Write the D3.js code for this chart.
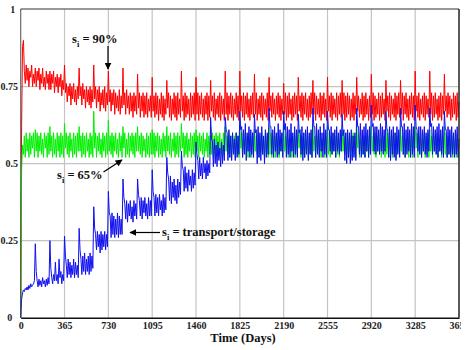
<!DOCTYPE html>
<html><head><meta charset="utf-8">
<script src="https://cdn.jsdelivr.net/npm/d3@7"></script>
<style>html,body{margin:0;padding:0;background:#fff;}svg{display:block;}</style>
</head><body>
<svg id="c" width="474" height="350"></svg>
<script>
// sampling step of the series (days)
const sampleStep = 365 / 48;
const xTickValues = [0, 365, 730, 1095, 1460, 1825, 2190, 2555, 2920, 3285, 3650];
const xTickLabels = ["0","365","730","1095","1460","1825","2190","2555","2920","3285","3650"];
const yTickValues = [0, 0.25, 0.5, 0.75, 1];
const yTickLabels = ["0","0.25","0.5","0.75","1"];
const xTitle = "Time (Days)";

// s_i = 90%
const red = [
0.00,0.62,0.88,0.90,0.80,0.76,0.82,0.77,0.81,0.75,0.80,0.78,0.82,0.75,0.79,0.76,
0.81,0.75,0.80,0.77,0.81,0.74,0.79,0.76,0.81,0.75,0.78,0.74,0.80,0.76,0.79,0.74,
0.80,0.74,0.79,0.76,0.80,0.73,0.78,0.75,0.79,0.73,0.78,0.75,0.79,0.72,0.77,0.74,
0.82,0.73,0.76,0.70,0.75,0.72,0.76,0.69,0.75,0.71,0.76,0.70,0.74,0.69,0.75,0.71,
0.81,0.72,0.75,0.69,0.76,0.71,0.74,0.68,0.75,0.70,0.74,0.69,0.75,0.68,0.74,0.70,
0.82,0.71,0.75,0.68,0.74,0.70,0.75,0.67,0.73,0.69,0.74,0.68,0.75,0.67,0.73,0.69,
0.80,0.70,0.74,0.67,0.73,0.69,0.74,0.66,0.73,0.68,0.72,0.67,0.74,0.66,0.72,0.68,
0.81,0.69,0.73,0.66,0.74,0.68,0.72,0.66,0.73,0.67,0.72,0.65,0.73,0.67,0.72,0.66,
0.79,0.68,0.73,0.65,0.72,0.67,0.73,0.65,0.72,0.66,0.73,0.65,0.71,0.67,0.72,0.65,
0.78,0.67,0.72,0.65,0.73,0.66,0.72,0.64,0.71,0.66,0.73,0.65,0.72,0.64,0.71,0.66,
0.77,0.68,0.73,0.65,0.72,0.64,0.71,0.66,0.73,0.65,0.72,0.64,0.73,0.66,0.71,0.65,
0.80,0.67,0.72,0.64,0.73,0.65,0.72,0.66,0.71,0.64,0.73,0.65,0.72,0.66,0.73,0.64,
0.78,0.66,0.73,0.64,0.72,0.66,0.73,0.65,0.71,0.64,0.72,0.66,0.73,0.64,0.72,0.65,
0.77,0.67,0.72,0.65,0.73,0.64,0.71,0.66,0.72,0.65,0.73,0.64,0.72,0.66,0.71,0.64,
0.80,0.66,0.73,0.64,0.72,0.66,0.73,0.65,0.72,0.64,0.71,0.66,0.73,0.65,0.72,0.64,
0.80,0.67,0.72,0.65,0.73,0.64,0.72,0.66,0.73,0.65,0.71,0.64,0.72,0.66,0.73,0.65,
0.79,0.66,0.73,0.64,0.71,0.66,0.72,0.65,0.73,0.64,0.72,0.66,0.71,0.65,0.73,0.64,
0.78,0.67,0.72,0.65,0.73,0.66,0.71,0.64,0.72,0.66,0.73,0.65,0.72,0.64,0.71,0.66,
0.76,0.66,0.73,0.64,0.72,0.65,0.73,0.66,0.71,0.64,0.72,0.65,0.73,0.66,0.72,0.64,
0.78,0.67,0.72,0.65,0.73,0.64,0.72,0.66,0.73,0.65,0.71,0.64,0.72,0.65,0.73,0.66,
0.77,0.66,0.73,0.64,0.72,0.66,0.71,0.65,0.73,0.64,0.72,0.66,0.73,0.65,0.71,0.64,
0.78,0.67,0.72,0.65,0.73,0.64,0.72,0.66,0.71,0.65,0.73,0.64,0.72,0.66,0.73,0.65,
0.77,0.66,0.73,0.64,0.72,0.65,0.73,0.66,0.72,0.64,0.71,0.65,0.73,0.64,0.72,0.66,
0.78,0.67,0.72,0.65,0.71,0.66,0.73,0.64,0.72,0.65,0.73,0.66,0.71,0.64,0.72,0.65,
0.79,0.66,0.73,0.64,0.72,0.65,0.71,0.66,0.73,0.64,0.72,0.65,0.73,0.66,0.71,0.64,
0.77,0.67,0.72,0.65,0.73,0.64,0.72,0.66,0.71,0.65,0.73,0.64,0.72,0.66,0.73,0.65,
0.77,0.66,0.73,0.64,0.72,0.66,0.73,0.65,0.71,0.64,0.72,0.66,0.73,0.65,0.72,0.64,
0.80,0.67,0.72,0.65,0.73,0.64,0.71,0.66,0.72,0.65,0.73,0.64,0.72,0.66,0.71,0.65,
0.80,0.66,0.73,0.64,0.72,0.65,0.73,0.66,0.71,0.64,0.72,0.65,0.73,0.64,0.72,0.66,
0.79,0.67,0.72,0.65,0.73,0.66,0.72,0.64,0.71,0.65,0.73,0.66,0.72,0.64,0.73,0.65,
0.70];

// s_i = 65%
const green = [
0.00,0.48,0.56,0.53,0.59,0.52,0.60,0.54,0.58,0.52,0.60,0.53,0.59,0.55,0.60,0.52,
0.61,0.54,0.60,0.52,0.59,0.54,0.60,0.53,0.58,0.52,0.60,0.55,0.59,0.52,0.60,0.53,
0.62,0.54,0.59,0.52,0.60,0.53,0.58,0.52,0.60,0.54,0.59,0.52,0.60,0.53,0.59,0.52,
0.63,0.55,0.60,0.53,0.59,0.52,0.60,0.54,0.58,0.52,0.60,0.53,0.59,0.52,0.60,0.54,
0.62,0.54,0.59,0.52,0.60,0.53,0.59,0.52,0.60,0.54,0.58,0.52,0.60,0.53,0.59,0.52,
0.67,0.55,0.60,0.52,0.59,0.54,0.60,0.53,0.58,0.52,0.60,0.54,0.59,0.52,0.60,0.53,
0.64,0.54,0.59,0.53,0.60,0.52,0.59,0.54,0.60,0.53,0.58,0.52,0.60,0.54,0.59,0.52,
0.62,0.55,0.60,0.52,0.58,0.53,0.60,0.52,0.59,0.54,0.60,0.53,0.59,0.52,0.60,0.54,
0.62,0.54,0.59,0.53,0.60,0.52,0.59,0.54,0.58,0.52,0.60,0.53,0.59,0.52,0.60,0.53,
0.61,0.53,0.60,0.52,0.59,0.54,0.60,0.52,0.59,0.53,0.58,0.52,0.60,0.54,0.59,0.52,
0.62,0.54,0.59,0.53,0.60,0.52,0.58,0.54,0.60,0.52,0.59,0.53,0.60,0.52,0.59,0.54,
0.63,0.55,0.60,0.52,0.59,0.53,0.60,0.52,0.58,0.54,0.60,0.52,0.59,0.53,0.60,0.52,
0.61,0.54,0.59,0.52,0.60,0.54,0.59,0.53,0.60,0.52,0.58,0.54,0.60,0.52,0.59,0.53,
0.62,0.53,0.60,0.52,0.59,0.53,0.60,0.54,0.59,0.52,0.60,0.53,0.58,0.52,0.60,0.54,
0.62,0.54,0.59,0.53,0.60,0.52,0.59,0.52,0.60,0.54,0.59,0.52,0.60,0.53,0.59,0.52,
0.62,0.55,0.60,0.52,0.58,0.54,0.60,0.53,0.59,0.52,0.60,0.54,0.59,0.52,0.60,0.53,
0.61,0.54,0.59,0.53,0.60,0.52,0.59,0.54,0.60,0.53,0.58,0.52,0.60,0.54,0.59,0.52,
0.62,0.53,0.60,0.52,0.59,0.54,0.60,0.52,0.59,0.53,0.60,0.52,0.59,0.54,0.60,0.53,
0.62,0.54,0.59,0.53,0.60,0.52,0.58,0.54,0.60,0.52,0.59,0.53,0.60,0.52,0.59,0.54,
0.61,0.55,0.60,0.52,0.59,0.53,0.60,0.52,0.58,0.54,0.60,0.52,0.59,0.53,0.60,0.52,
0.62,0.54,0.59,0.52,0.60,0.54,0.59,0.53,0.60,0.52,0.58,0.54,0.60,0.52,0.59,0.53,
0.62,0.53,0.60,0.52,0.59,0.53,0.60,0.54,0.59,0.52,0.60,0.53,0.58,0.52,0.60,0.54,
0.61,0.54,0.59,0.53,0.60,0.52,0.59,0.52,0.60,0.54,0.59,0.52,0.60,0.53,0.59,0.52,
0.62,0.55,0.60,0.52,0.58,0.54,0.60,0.53,0.59,0.52,0.60,0.54,0.59,0.52,0.60,0.53,
0.62,0.54,0.59,0.53,0.60,0.52,0.59,0.54,0.60,0.53,0.58,0.52,0.60,0.54,0.59,0.52,
0.61,0.53,0.60,0.52,0.59,0.54,0.60,0.52,0.59,0.53,0.60,0.52,0.59,0.54,0.60,0.53,
0.62,0.54,0.59,0.53,0.60,0.52,0.58,0.54,0.60,0.52,0.59,0.53,0.60,0.52,0.59,0.54,
0.62,0.55,0.60,0.52,0.59,0.53,0.60,0.52,0.58,0.54,0.60,0.52,0.59,0.53,0.60,0.52,
0.61,0.54,0.59,0.52,0.60,0.54,0.59,0.53,0.60,0.52,0.58,0.54,0.60,0.52,0.59,0.53,
0.62,0.53,0.60,0.52,0.59,0.53,0.60,0.54,0.59,0.52,0.60,0.53,0.58,0.52,0.60,0.54,
0.56];

// s_i = transport/storage
const blue = [
0.00,0.06,0.08,0.09,0.085,0.095,0.09,0.10,0.09,0.105,0.095,0.11,0.10,0.105,0.11,0.12,
0.24,0.15,0.12,0.10,0.125,0.105,0.12,0.10,0.13,0.11,0.12,0.10,0.125,0.105,0.13,0.11,
0.25,0.16,0.13,0.11,0.14,0.12,0.18,0.12,0.14,0.11,0.19,0.13,0.15,0.11,0.14,0.12,
0.265,0.20,0.17,0.13,0.19,0.14,0.18,0.13,0.17,0.14,0.19,0.13,0.18,0.14,0.17,0.13,
0.29,0.22,0.19,0.14,0.20,0.15,0.21,0.14,0.19,0.15,0.20,0.14,0.21,0.15,0.20,0.16,
0.36,0.29,0.27,0.22,0.28,0.23,0.27,0.21,0.28,0.22,0.27,0.23,0.28,0.22,0.27,0.23,
0.41,0.34,0.33,0.26,0.34,0.27,0.33,0.26,0.32,0.27,0.34,0.26,0.33,0.27,0.32,0.27,
0.45,0.39,0.37,0.32,0.38,0.31,0.37,0.33,0.38,0.32,0.36,0.31,0.38,0.33,0.37,0.32,
0.45,0.40,0.38,0.33,0.39,0.32,0.38,0.34,0.39,0.33,0.37,0.32,0.39,0.33,0.38,0.33,
0.48,0.41,0.39,0.33,0.40,0.34,0.39,0.33,0.40,0.35,0.38,0.33,0.40,0.34,0.39,0.35,
0.52,0.47,0.45,0.38,0.46,0.37,0.44,0.39,0.45,0.38,0.43,0.37,0.45,0.39,0.44,0.40,
0.54,0.49,0.48,0.41,0.49,0.42,0.47,0.41,0.48,0.43,0.46,0.41,0.48,0.42,0.47,0.43,
0.57,0.53,0.51,0.45,0.52,0.46,0.50,0.45,0.52,0.47,0.50,0.45,0.51,0.46,0.50,0.47,
0.65,0.58,0.57,0.49,0.58,0.50,0.56,0.49,0.57,0.51,0.55,0.49,0.57,0.50,0.56,0.51,
0.65,0.61,0.60,0.51,0.61,0.52,0.59,0.51,0.60,0.53,0.58,0.51,0.60,0.52,0.59,0.53,
0.67,0.61,0.62,0.52,0.61,0.53,0.63,0.51,0.60,0.54,0.62,0.52,0.61,0.53,0.60,0.52,
0.66,0.60,0.61,0.50,0.62,0.52,0.60,0.51,0.62,0.53,0.59,0.50,0.61,0.52,0.60,0.53,
0.68,0.62,0.62,0.53,0.61,0.52,0.62,0.54,0.60,0.52,0.63,0.53,0.61,0.54,0.60,0.52,
0.67,0.61,0.63,0.52,0.62,0.53,0.61,0.52,0.63,0.54,0.60,0.52,0.62,0.53,0.61,0.52,
0.66,0.60,0.61,0.53,0.62,0.51,0.60,0.52,0.61,0.53,0.62,0.51,0.60,0.53,0.61,0.52,
0.68,0.62,0.62,0.52,0.63,0.53,0.61,0.52,0.62,0.54,0.60,0.52,0.63,0.53,0.61,0.52,
0.67,0.61,0.61,0.54,0.62,0.53,0.60,0.54,0.61,0.52,0.62,0.54,0.60,0.53,0.61,0.54,
0.66,0.59,0.61,0.51,0.60,0.50,0.61,0.52,0.60,0.50,0.61,0.51,0.59,0.52,0.60,0.51,
0.68,0.62,0.62,0.53,0.63,0.52,0.61,0.53,0.62,0.52,0.63,0.54,0.61,0.52,0.62,0.53,
0.69,0.62,0.63,0.54,0.62,0.53,0.62,0.54,0.61,0.53,0.63,0.54,0.62,0.53,0.61,0.54,
0.67,0.61,0.61,0.52,0.62,0.51,0.61,0.53,0.62,0.52,0.60,0.51,0.62,0.53,0.61,0.52,
0.68,0.62,0.62,0.53,0.63,0.52,0.61,0.53,0.62,0.54,0.61,0.52,0.63,0.53,0.62,0.52,
0.69,0.62,0.61,0.54,0.62,0.53,0.62,0.52,0.61,0.54,0.62,0.53,0.60,0.52,0.61,0.54,
0.68,0.62,0.63,0.53,0.62,0.54,0.61,0.53,0.62,0.52,0.63,0.54,0.61,0.53,0.62,0.52,
0.67,0.61,0.61,0.52,0.62,0.53,0.61,0.52,0.62,0.53,0.60,0.52,0.61,0.53,0.62,0.52,
0.58];

const seriesList = [
  {name: "90%", values: red, color: "#ff0000"},
  {name: "65%", values: green, color: "#00f000"},
  {name: "transport/storage", values: blue, color: "#1010f0"}
];

const svg = d3.select("#c");
const x = d3.scaleLinear().domain([0, 3650]).range([20.7, 459]);
const y = d3.scaleLinear().domain([0, 1]).range([317.7, 9.5]);
const FONT = "'Liberation Serif', 'Times New Roman', serif";

// gridlines
const grid = svg.append("g");
grid.selectAll("line.v").data(xTickValues.slice(1, -1)).enter().append("line")
  .attr("x1", d => x(d)).attr("x2", d => x(d)).attr("y1", y(1)).attr("y2", y(0))
  .attr("stroke", "#c4c4c4").attr("stroke-width", 1.2);
grid.selectAll("line.h").data(yTickValues.slice(1, -1)).enter().append("line")
  .attr("x1", x(0)).attr("x2", x(3650)).attr("y1", d => y(d)).attr("y2", d => y(d))
  .attr("stroke", "#c4c4c4").attr("stroke-width", 1.2);

// series
const line = d3.line().x((d, i) => x(i * sampleStep)).y(d => y(d));
seriesList.forEach(s => {
  svg.append("path").datum(s.values).attr("d", line)
    .attr("fill", "none").attr("stroke", s.color).attr("stroke-width", 1);
});

// frame
svg.append("line").attr("x1", x(0)).attr("x2", x(3650)).attr("y1", 9).attr("y2", 9).attr("stroke", "#333").attr("stroke-width", 1.2);
svg.append("line").attr("x1", x(3650)).attr("x2", x(3650)).attr("y1", 9).attr("y2", y(0)).attr("stroke", "#222").attr("stroke-width", 1.5);
svg.append("line").attr("x1", x(0)).attr("x2", x(0)).attr("y1", 9).attr("y2", y(0)).attr("stroke", "#444").attr("stroke-width", 1.2).attr("opacity", 0.8);

// x axis (last label clipped like the original picture)
svg.append("clipPath").attr("id", "xclip").append("rect").attr("x", 0).attr("y", -10).attr("width", 461).attr("height", 40);
const xAxis = d3.axisBottom(x).tickValues(xTickValues).tickFormat((d, i) => xTickLabels[i]).tickSize(0).tickPadding(4);
const gx = svg.append("g").attr("transform", `translate(0,${y(0)})`).attr("clip-path", "url(#xclip)").call(xAxis);
gx.select(".domain").attr("stroke", "#111").attr("stroke-width", 1.6);
gx.selectAll("text").style("font-family", FONT).style("font-weight", "bold").style("font-size", "10px").attr("fill", "#222");

// y axis
const yAxis = d3.axisLeft(y).tickValues(yTickValues).tickFormat((d, i) => yTickLabels[i]).tickSize(0).tickPadding(2.7);
const gy = svg.append("g").attr("transform", `translate(${x(0)},0)`).call(yAxis);
gy.select(".domain").remove();
gy.selectAll("text").style("font-family", FONT).style("font-weight", "bold").style("font-size", "10px").attr("fill", "#222")
  .attr("x", d => d === 0 ? -8.5 : (d === 1 ? -5.5 : -2.7));

// axis title
svg.append("text").attr("x", 243).attr("y", 342).attr("text-anchor", "middle")
  .style("font-family", FONT).style("font-weight", "bold").style("font-size", "12.5px").attr("fill", "#111").text(xTitle);

// arrow marker
const defs = svg.append("defs");
defs.append("marker").attr("id", "ah").attr("viewBox", "0 0 10 10").attr("refX", 9).attr("refY", 5)
  .attr("markerWidth", 7).attr("markerHeight", 7).attr("markerUnits", "userSpaceOnUse").attr("orient", "auto")
  .append("path").attr("d", "M0,0L10,5L0,10Z").attr("fill", "#000");

// annotations
const annotations = [
  {label: " = 90%", tx: 72, ty: 43, ax1: 108, ay1: 46, ax2: 108, ay2: 69},
  {label: " = 65%", tx: 57, ty: 179, ax1: 103.5, ay1: 172, ax2: 122, ay2: 160},
  {label: " = transport/storage", tx: 162, ty: 236, ax1: 160, ay1: 232.5, ax2: 130, ay2: 232.5}
];
annotations.forEach(a => {
  const t = svg.append("text").attr("x", a.tx).attr("y", a.ty)
    .style("font-family", FONT).style("font-weight", "bold").style("font-size", "12.5px").attr("fill", "#111");
  t.append("tspan").text("s");
  t.append("tspan").style("font-size", "8.5px").attr("dy", 3.5).text("i");
  t.append("tspan").attr("dy", -3.5).text(a.label);
  svg.append("line").attr("x1", a.ax1).attr("y1", a.ay1).attr("x2", a.ax2).attr("y2", a.ay2)
    .attr("stroke", "#000").attr("stroke-width", 1.2).attr("marker-end", "url(#ah)");
});
</script>
</body></html>
